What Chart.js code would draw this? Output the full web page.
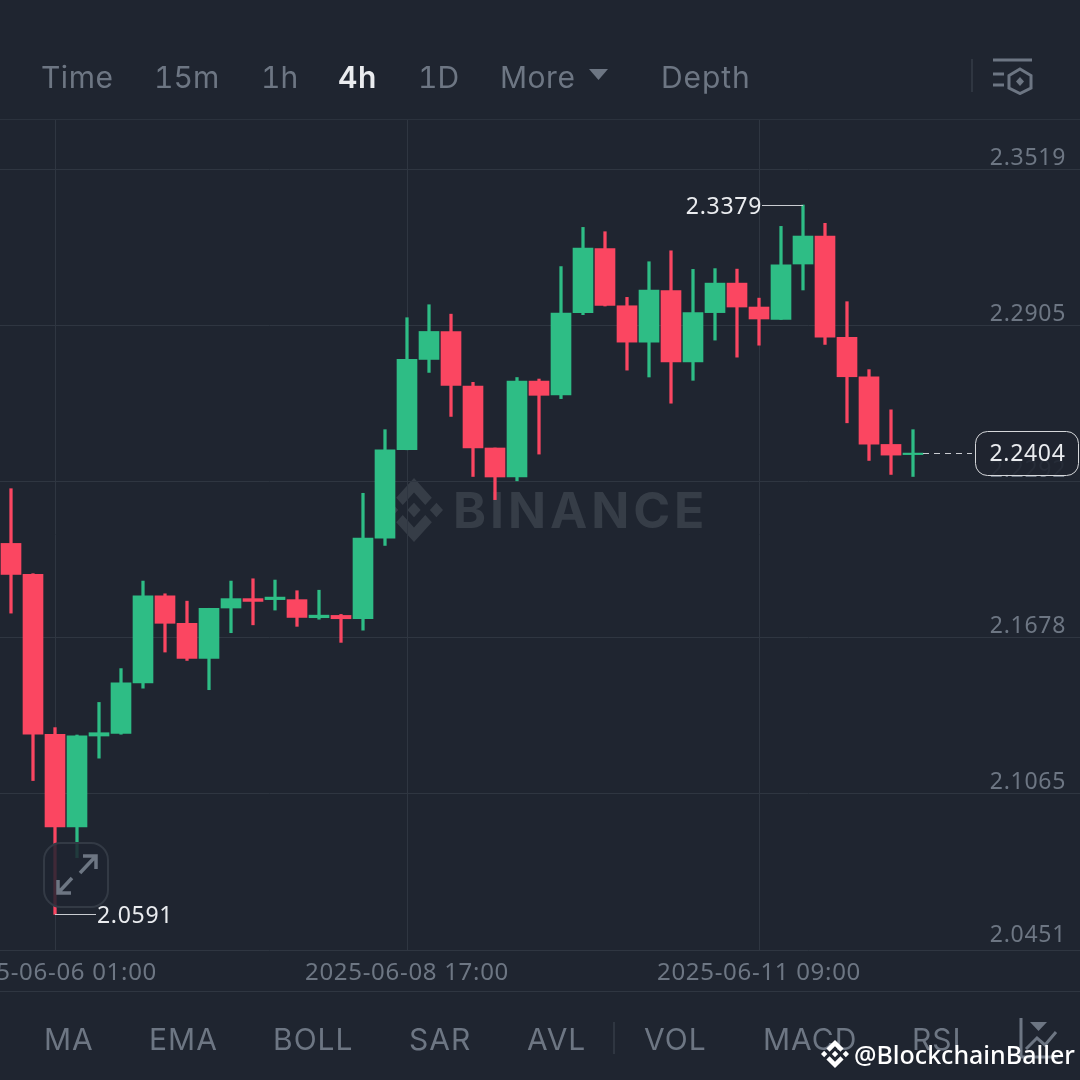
<!DOCTYPE html>
<html>
<head>
<meta charset="utf-8">
<title>4h candles</title>
<script src="https://cdn.jsdelivr.net/npm/chart.js@4"></script>
<style>
    html, body { margin: 0; padding: 0; background: #1f2530; }
    body { position: relative; width: 1080px; height: 1080px; overflow: hidden; font-family: Inter, "Noto Sans", sans-serif; font-variant-numeric: tabular-nums; }
    canvas { position: absolute; left: 0; top: 0; }
    .txt { position: absolute; white-space: nowrap; color: #6d7683; line-height: 40px; height: 40px; letter-spacing: 0.5px; }
    .top { top: 57px; font-size: 30px; }
    .bottom { top: 1019px; font-size: 30px; letter-spacing: 1px; }
    .line { position: absolute; left: 0; width: 1080px; height: 1px; background: #2f3641; }
    .divider { position: absolute; width: 2px; background: #2f3641; }
    .mark { position: absolute; }
    #watermark { position: absolute; left: 453px; top: 480px; font-size: 50px; line-height: 60px; font-weight: 700; color: #363d47; letter-spacing: 3.9px; }
    #expand { position: absolute; left: 43px; top: 842px; width: 62px; height: 62px; border: 2px solid #333a45; border-radius: 18px; background: rgba(31, 37, 48, 0.85); }
    #handle { position: absolute; left: 854px; top: 1036px; font-family: "Noto Sans", sans-serif; font-size: 25px; line-height: 36px; color: #fff; font-weight: 500; white-space: nowrap; }
</style>
</head>
<body>

<!-- watermark sits under the candles -->
<svg class="mark" style="left:385px;top:478px" width="58" height="64" viewBox="0 0 126.61 126.61" preserveAspectRatio="none">
    <path fill="#363d47" d="M38.73 53.2l24.59-24.58 24.6 24.6 14.3-14.31L63.32 0 24.43 38.9zM0 63.31l14.3-14.31 14.31 14.31-14.31 14.3zM38.73 73.41l24.59 24.59 24.6-24.6 14.31 14.29-38.9 38.91-38.91-38.88-.02-.02zM98 63.31l14.3-14.31 14.31 14.3-14.31 14.32zM77.83 63.3L63.32 48.78 52.59 59.51l-1.24 1.23-2.54 2.54 14.51 14.5 14.51-14.47z"/>
</svg>
<div id="watermark">BINANCE</div>

<canvas id="candleChart" width="1080" height="1080"></canvas>

<!-- top bar -->
<div class="txt top" style="left:41px">Time</div>
<div class="txt top" style="left:154px;letter-spacing:0">15m</div>
<div class="txt top" style="left:261px;letter-spacing:0">1h</div>
<div class="txt top" style="left:338px;color:#eaecef;font-weight:600">4h</div>
<div class="txt top" style="left:418px;letter-spacing:0">1D</div>
<div class="txt top" style="left:500px">More</div>
<svg class="mark" style="left:589px;top:68px" width="19" height="13"><path d="M0 1 H19 L9.5 12 Z" fill="#6d7683"/></svg>
<div class="txt top" style="left:661px;letter-spacing:0.9px">Depth</div>
<div class="divider" style="left:971px;top:59px;height:33px"></div>
<svg class="mark" style="left:992px;top:57px" width="42" height="38" fill="none" stroke="#6d7683" stroke-width="3">
    <path d="M1 3 H40 M1 17 H12 M1 28 H12"/>
    <path d="M28 12 L39 18.5 V31 L28 36.5 L17 31 V18.5 Z"/>
    <path d="M28 20 L32 24.5 L28 29 L24 24.5 Z" fill="#6d7683" stroke="none"/>
</svg>
<div class="line" style="top:119px;background:#2b323d"></div>

<!-- bottom bar -->
<div class="line" style="top:991px"></div>
<div class="txt bottom" style="left:44px">MA</div>
<div class="txt bottom" style="left:149px">EMA</div>
<div class="txt bottom" style="left:273px">BOLL</div>
<div class="txt bottom" style="left:409px">SAR</div>
<div class="txt bottom" style="left:527px">AVL</div>
<div class="divider" style="left:613px;top:1022px;height:32px"></div>
<div class="txt bottom" style="left:644px">VOL</div>
<div class="txt bottom" style="left:763px">MACD</div>
<div class="txt bottom" style="left:912px">RSI</div>
<svg class="mark" style="left:1018px;top:1017px" width="42" height="46" fill="none" stroke="#6d7683" stroke-width="3">
    <path d="M3 1 V40 H40"/>
    <path d="M8 32 L19 21 L27 28 L38 15"/>
    <path d="M12 5 H29 L20.5 14 Z" fill="#6d7683" stroke="none"/>
</svg>

<div id="expand">
    <svg width="62" height="62" fill="none" stroke="#6d7683" stroke-width="3.5">
        <path d="M35 29 L50 13 M38 12 H51 V25"/>
        <path d="M27 34 L13 49 M13 36 V49 H26"/>
    </svg>
</div>

<svg class="mark" style="left:821px;top:1040px" width="28" height="28" viewBox="0 0 126.61 126.61">
    <path fill="#fff" d="M38.73 53.2l24.59-24.58 24.6 24.6 14.3-14.31L63.32 0 24.43 38.9zM0 63.31l14.3-14.31 14.31 14.31-14.31 14.3zM38.73 73.41l24.59 24.59 24.6-24.6 14.31 14.29-38.9 38.91-38.91-38.88-.02-.02zM98 63.31l14.3-14.31 14.31 14.3-14.31 14.32zM77.83 63.3L63.32 48.78 52.59 59.51l-1.24 1.23-2.54 2.54 14.51 14.5 14.51-14.47z"/>
</svg>
<div id="handle">@BlockchainBaller</div>

<script>
// one candle every 4 hours
const candleTimes = [
    '2025-06-05 17:00', '2025-06-05 21:00',
    '2025-06-06 01:00', '2025-06-06 05:00', '2025-06-06 09:00', '2025-06-06 13:00', '2025-06-06 17:00', '2025-06-06 21:00',
    '2025-06-07 01:00', '2025-06-07 05:00', '2025-06-07 09:00', '2025-06-07 13:00', '2025-06-07 17:00', '2025-06-07 21:00',
    '2025-06-08 01:00', '2025-06-08 05:00', '2025-06-08 09:00', '2025-06-08 13:00', '2025-06-08 17:00', '2025-06-08 21:00',
    '2025-06-09 01:00', '2025-06-09 05:00', '2025-06-09 09:00', '2025-06-09 13:00', '2025-06-09 17:00', '2025-06-09 21:00',
    '2025-06-10 01:00', '2025-06-10 05:00', '2025-06-10 09:00', '2025-06-10 13:00', '2025-06-10 17:00', '2025-06-10 21:00',
    '2025-06-11 01:00', '2025-06-11 05:00', '2025-06-11 09:00', '2025-06-11 13:00', '2025-06-11 17:00', '2025-06-11 21:00',
    '2025-06-12 01:00', '2025-06-12 05:00', '2025-06-12 09:00', '2025-06-12 13:00'
];
const futureSlots = ['', '', '', '', '', '', ''];

const opens = [
    2.2049, 2.1927, 2.1299, 2.0935, 2.1292, 2.1302, 2.1501, 2.1843, 2.1735, 2.1597,
    2.1795, 2.1832, 2.1828, 2.1828, 2.1757, 2.1766, 2.1753, 2.2070, 2.2417, 2.2772,
    2.2882, 2.2667, 2.2424, 2.2310, 2.2687, 2.2633, 2.2956, 2.3208, 2.2983, 2.2840,
    2.3043, 2.2762, 2.2956, 2.3072, 2.2978, 2.2929, 2.3147, 2.3257, 2.2859, 2.2704,
    2.2438, 2.2398
];
const highs = [
    2.2264, 2.1930, 2.1325, 2.1296, 2.1424, 2.1557, 2.1901, 2.1851, 2.1822, 2.1794,
    2.1901, 2.1910, 2.1905, 2.1863, 2.1865, 2.1770, 2.2246, 2.2496, 2.2936, 2.2987,
    2.2950, 2.2682, 2.2424, 2.2701, 2.2695, 2.3137, 2.3291, 2.3274, 2.3016, 2.3156,
    2.3199, 2.3126, 2.3129, 2.3127, 2.3013, 2.3295, 2.3379, 2.3307, 2.2999, 2.2732,
    2.2574, 2.2496
];
const lows = [
    2.1775, 2.1117, 2.0591, 2.0814, 2.1205, 2.1299, 2.1480, 2.1622, 2.1589, 2.1474,
    2.1698, 2.1729, 2.1787, 2.1723, 2.1751, 2.1660, 2.1708, 2.2041, 2.2417, 2.2721,
    2.2548, 2.2312, 2.2221, 2.2295, 2.2400, 2.2618, 2.2948, 2.2982, 2.2730, 2.2703,
    2.2600, 2.2690, 2.2848, 2.2781, 2.2828, 2.2929, 2.3045, 2.2831, 2.2523, 2.2375,
    2.2320, 2.2312
];
const closes = [
    2.1927, 2.1299, 2.0935, 2.1293, 2.1305, 2.1501, 2.1843, 2.1735, 2.1597, 2.1794,
    2.1832, 2.1821, 2.1838, 2.1758, 2.1767, 2.1753, 2.2070, 2.2417, 2.2772, 2.2882,
    2.2670, 2.2424, 2.2310, 2.2687, 2.2631, 2.2954, 2.3210, 2.2984, 2.2840, 2.3045,
    2.2762, 2.2956, 2.3072, 2.2978, 2.2931, 2.3144, 2.3257, 2.2860, 2.2704, 2.2439,
    2.2396, 2.2404
];

const yTicks = [2.3519, 2.2905, 2.2292, 2.1678, 2.1065, 2.0451];
const xTickLabels = ['2025-06-06 01:00', '2025-06-08 17:00', '2025-06-11 09:00'];
const yMin = 2.0451;
const yMax = 2.3717;

const UP = '#2ebd85';
const DOWN = '#fb4661';
const GRID = '#2f3641';
const TICK_TEXT = '#6d7683';
const FONT = '"Noto Sans"';

const candleColors = closes.map(function (c, i) {
    return c >= opens[i] ? UP : DOWN;
});

// wider digits, the axis fonts are a bit tight otherwise
const wideText = {
    id: 'wideText',
    beforeDraw: function (chart) {
        chart.ctx.letterSpacing = '0.7px';
    }
};

// high / low labels and the last price tag
const priceMarks = {
    id: 'priceMarks',
    afterDraw: function (chart) {
        const ctx = chart.ctx;
        const x = chart.scales.x;
        const y = chart.scales.y;

        const high = Math.max.apply(null, highs);
        const low = Math.min.apply(null, lows);
        const last = closes[closes.length - 1];

        const highX = x.getPixelForValue(highs.indexOf(high));
        const highY = Math.round(y.getPixelForValue(high)) + 0.5;
        const lowX = x.getPixelForValue(lows.indexOf(low));
        const lowY = Math.round(y.getPixelForValue(low)) + 0.5;
        const lastX = x.getPixelForValue(closes.length - 1);
        const lastY = Math.round(y.getPixelForValue(last)) + 0.5;

        ctx.save();
        ctx.font = '23px ' + FONT;
        ctx.textBaseline = 'middle';

        // bottom axis label sits higher than the others, labelOffset is per scale
        ctx.fillStyle = TICK_TEXT;
        ctx.textAlign = 'right';
        ctx.fillText(yMin.toFixed(4), 1066, y.getPixelForValue(yMin) - 15);

        ctx.fillStyle = '#eaecef';
        ctx.strokeStyle = '#c9ccd1';
        ctx.lineWidth = 1;

        ctx.beginPath();
        ctx.moveTo(highX, highY);
        ctx.lineTo(highX - 41, highY);
        ctx.moveTo(lowX, lowY);
        ctx.lineTo(lowX + 41, lowY);
        ctx.stroke();

        ctx.textAlign = 'right';
        ctx.fillText(high.toFixed(4), highX - 41, highY + 2);
        ctx.textAlign = 'left';
        ctx.fillText(low.toFixed(4), lowX + 42, lowY + 2);

        // dashed line to the tag
        ctx.setLineDash([6, 5]);
        ctx.beginPath();
        ctx.moveTo(lastX + 10, lastY);
        ctx.lineTo(972, lastY);
        ctx.stroke();
        ctx.setLineDash([]);

        ctx.beginPath();
        ctx.roundRect(975.5, lastY - 22, 103, 44, 12);
        ctx.fillStyle = 'rgba(31, 37, 48, 0.9)';
        ctx.fill();
        ctx.strokeStyle = '#d5d7da';
        ctx.stroke();

        ctx.fillStyle = '#eaecef';
        ctx.textAlign = 'center';
        ctx.fillText(last.toFixed(4), 1027.5, lastY + 1);
        ctx.restore();
    }
};

document.addEventListener('DOMContentLoaded', function () {
    const canvas = document.getElementById('candleChart');
    const ctx = canvas.getContext('2d');

    new Chart(ctx, {
        type: 'bar',
        data: {
            labels: candleTimes.concat(futureSlots),
            datasets: [
                {
                    label: 'Body',
                    data: opens.map(function (o, i) { return [o, closes[i]]; }),
                    backgroundColor: candleColors,
                    barThickness: 20,
                    grouped: false
                },
                {
                    label: 'Wick',
                    data: lows.map(function (l, i) { return [l, highs[i]]; }),
                    backgroundColor: candleColors,
                    barThickness: 2.6,
                    grouped: false
                }
            ]
        },
        options: {
            responsive: false,
            animation: false,
            devicePixelRatio: 1,
            layout: { padding: { top: 119, bottom: 88, left: 0, right: 0 } },
            plugins: {
                legend: { display: false },
                tooltip: { enabled: false }
            },
            scales: {
                x: {
                    afterFit: function (scale) { scale.height = 42; },
                    border: { display: false },
                    grid: {
                        offset: false,
                        drawTicks: false,
                        color: GRID,
                        lineWidth: function (c) {
                            return c.tick && xTickLabels.includes(c.tick.label) ? 1 : 0;
                        }
                    },
                    ticks: {
                        autoSkip: false,
                        maxRotation: 0,
                        padding: 9,
                        color: TICK_TEXT,
                        font: { family: FONT, size: 24 },
                        callback: function (value) {
                            const label = this.getLabelForValue(value);
                            return xTickLabels.includes(label) ? label : '';
                        }
                    }
                },
                y: {
                    position: 'right',
                    min: yMin,
                    max: yMax,
                    afterBuildTicks: function (scale) {
                        scale.ticks = yTicks.map(function (v) { return { value: v }; });
                    },
                    afterFit: function (scale) { scale.width = 2; },
                    border: { display: false },
                    grid: { color: GRID, tickColor: GRID, drawTicks: true, tickLength: 2 },
                    ticks: {
                        mirror: true,
                        padding: -12,
                        labelOffset: -11,
                        color: TICK_TEXT,
                        font: { family: FONT, size: 23 },
                        callback: function (value) {
                            return value === yMin ? '' : value.toFixed(4);
                        }
                    }
                }
            }
        },
        plugins: [wideText, priceMarks]
    });
});
</script>
</body>
</html>
